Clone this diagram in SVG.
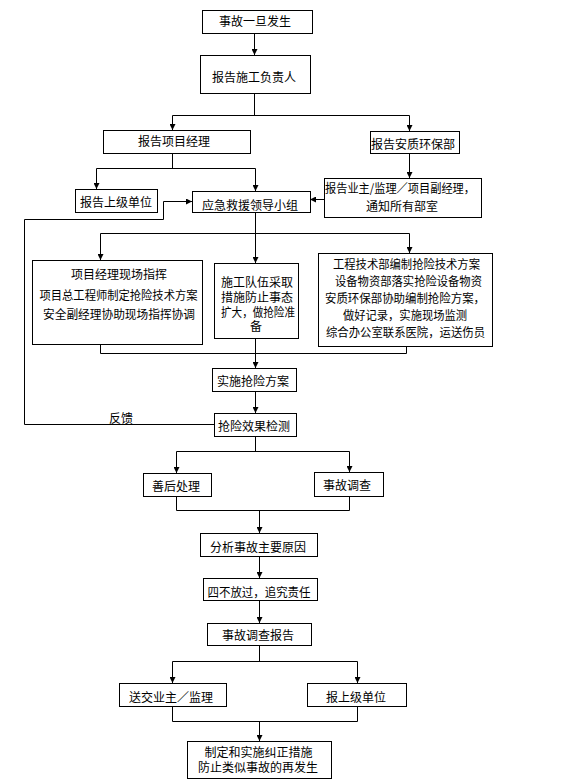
<svg xmlns="http://www.w3.org/2000/svg" width="580" height="784" viewBox="0 0 580 784">
<style>
rect.b{fill:#fff;stroke:#000;stroke-width:1}
text{font-family:"Noto Sans CJK SC","Liberation Sans",sans-serif;font-size:12px;fill:#000;text-anchor:middle}
text.s{text-anchor:start}
#connectors path{fill:none;stroke:#000;stroke-width:1}
</style>
<defs>
<marker id="ar" viewBox="0 0 8 8" markerWidth="6" markerHeight="6" refX="8" refY="4" orient="auto" markerUnits="userSpaceOnUse">
<path d="M0,0 L8,4 L0,8 z" fill="#000"/>
</marker>
</defs>
<rect width="580" height="784" fill="#fff"/>
<g id="connectors">
<path d="M254.5 33 V55" marker-end="url(#ar)"/>
<path d="M254.5 93 V115.5 M172.5 115.5 H409.5"/>
<path d="M172.5 115.5 V130" marker-end="url(#ar)"/>
<path d="M409.5 115.5 V131" marker-end="url(#ar)"/>
<path d="M172.5 153 V168.5 M96.5 168.5 H255.5"/>
<path d="M96.5 168.5 V189" marker-end="url(#ar)"/>
<path d="M255.5 168.5 V191" marker-end="url(#ar)"/>
<path d="M409.5 153 V178" marker-end="url(#ar)"/>
<path d="M324 199.5 H310" marker-end="url(#ar)"/>
<path d="M214 424.5 H24.5 V219.5 H163.5 V201.5 H192" marker-end="url(#ar)"/>
<path d="M255.5 212 V263" marker-end="url(#ar)"/>
<path d="M100.5 233.5 H409.5"/>
<path d="M100.5 233.5 V260" marker-end="url(#ar)"/>
<path d="M409.5 233.5 V253" marker-end="url(#ar)"/>
<path d="M100.5 344 V353.5 H406.5 V346"/>
<path d="M255.5 338 V368" marker-end="url(#ar)"/>
<path d="M255.5 391 V413" marker-end="url(#ar)"/>
<path d="M255.5 436 V451.5 M176.5 451.5 H349.5"/>
<path d="M176.5 451.5 V473" marker-end="url(#ar)"/>
<path d="M349.5 451.5 V472" marker-end="url(#ar)"/>
<path d="M176.5 496 V510.5 H349.5 V496"/>
<path d="M259.5 510.5 V533" marker-end="url(#ar)"/>
<path d="M259.5 556 V578" marker-end="url(#ar)"/>
<path d="M259.5 600 V623" marker-end="url(#ar)"/>
<path d="M259.5 645 V661.5 M172.5 661.5 H357.5"/>
<path d="M172.5 661.5 V683" marker-end="url(#ar)"/>
<path d="M357.5 661.5 V683" marker-end="url(#ar)"/>
<path d="M172.5 706 V721.5 H357.5 V706"/>
<path d="M259.5 721.5 V741" marker-end="url(#ar)"/>
<text class="s" x="109" y="422.5">反馈</text>
</g>
<g id="n1"><rect class="b" x="202.5" y="10.5" width="110" height="23"/><text x="255" y="25.5">事故一旦发生</text></g>
<g id="n2"><rect class="b" x="200.5" y="55.5" width="110" height="38"/><text x="254" y="81.5">报告施工负责人</text></g>
<g id="n3"><rect class="b" x="103.5" y="130.5" width="147" height="23"/><text x="174" y="145.5">报告项目经理</text></g>
<g id="n4"><rect class="b" x="370.5" y="131.5" width="89" height="22"/><text x="413" y="148.5">报告安质环保部</text></g>
<g id="n5"><rect class="b" x="75.5" y="189.5" width="82" height="23"/><text x="116" y="206.5">报告上级单位</text></g>
<g id="n6"><rect class="b" x="192.5" y="191.5" width="118" height="21"/><text x="250" y="209.5">应急救援领导小组</text></g>
<g id="n7"><rect class="b" x="324.5" y="178.5" width="157" height="39"/><text class="s" x="325" y="192.5" textLength="150" lengthAdjust="spacingAndGlyphs">报告业主/监理／项目副经理，</text><text x="402" y="210.5">通知所有部室</text></g>
<g id="n8"><rect class="b" x="32.5" y="260.5" width="170" height="84"/><text x="119" y="278.5">项目经理现场指挥</text><text x="118.5" y="299.5" textLength="158" lengthAdjust="spacingAndGlyphs">项目总工程师制定抢险技术方案</text><text x="119" y="318.5" textLength="152" lengthAdjust="spacingAndGlyphs">安全副经理协助现场指挥协调</text></g>
<g id="n9"><rect class="b" x="214.5" y="263.5" width="84" height="75"/><text class="s" x="221" y="286.5" textLength="72" lengthAdjust="spacingAndGlyphs">施工队伍采取</text><text class="s" x="221" y="301.5" textLength="72" lengthAdjust="spacingAndGlyphs">措施防止事态</text><text class="s" x="221" y="316.5" textLength="74" lengthAdjust="spacingAndGlyphs">扩大，做抢险准</text><text x="256" y="330.5">备</text></g>
<g id="n10"><rect class="b" x="318.5" y="253.5" width="174" height="93"/><text x="406.5" y="268.5" textLength="147" lengthAdjust="spacingAndGlyphs">工程技术部编制抢险技术方案</text><text x="408.5" y="285.5" textLength="147" lengthAdjust="spacingAndGlyphs">设备物资部落实抢险设备物资</text><text x="405" y="302.5" textLength="160" lengthAdjust="spacingAndGlyphs">安质环保部协助编制抢险方案，</text><text x="405" y="319.5" textLength="124" lengthAdjust="spacingAndGlyphs">做好记录，实施现场监测</text><text x="405.5" y="336.5" textLength="159" lengthAdjust="spacingAndGlyphs">综合办公室联系医院，运送伤员</text></g>
<g id="n11"><rect class="b" x="212.5" y="368.5" width="84" height="23"/><text x="253" y="386">实施抢险方案</text></g>
<g id="n12"><rect class="b" x="214.5" y="413.5" width="82" height="23"/><text x="254" y="431">抢险效果检测</text></g>
<g id="n13"><rect class="b" x="143.5" y="473.5" width="68" height="23"/><text x="176" y="491">善后处理</text></g>
<g id="n14"><rect class="b" x="314.5" y="472.5" width="69" height="24"/><text x="347" y="489.5">事故调查</text></g>
<g id="n15"><rect class="b" x="200.5" y="533.5" width="117" height="23"/><text x="258" y="551.5">分析事故主要原因</text></g>
<g id="n16"><rect class="b" x="203.5" y="578.5" width="114" height="22"/><text x="259" y="597" textLength="103" lengthAdjust="spacingAndGlyphs">四不放过，追究责任</text></g>
<g id="n17"><rect class="b" x="207.5" y="623.5" width="104" height="22"/><text x="258" y="640">事故调查报告</text></g>
<g id="n18"><rect class="b" x="119.5" y="683.5" width="107" height="23"/><text x="171" y="701.5">送交业主／监理</text></g>
<g id="n19"><rect class="b" x="307.5" y="683.5" width="99" height="23"/><text x="356" y="701.5">报上级单位</text></g>
<g id="n20"><rect class="b" x="187.5" y="741.5" width="144" height="37"/><text x="258.5" y="756.5">制定和实施纠正措施</text><text x="258" y="771.5">防止类似事故的再发生</text></g>
</svg>
